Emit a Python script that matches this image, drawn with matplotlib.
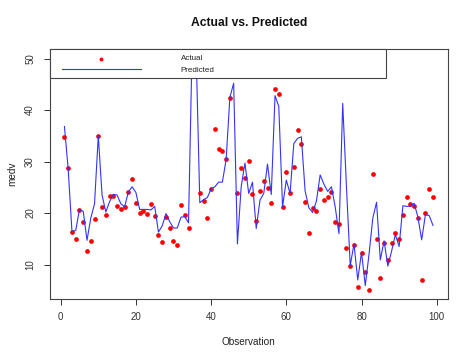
import numpy as np
import matplotlib
matplotlib.use("Agg")
import matplotlib.pyplot as plt
from matplotlib.patches import Rectangle
from matplotlib.lines import Line2D

plt.rcParams['font.family'] = ['Liberation Sans', 'DejaVu Sans']

# medv values (obs 1..99)
actual = [34.7, 28.8, 16.4, 15.0, 20.5, 18.2, 12.7, 14.5, 18.9, 35.0,
          21.2, 19.7, 23.4, 23.4, 21.4, 20.8, 21.2, 24.0, 26.6, 22.0,
          20.1, 20.3, 19.8, 21.8, 19.4, 15.7, 14.4, 19.2, 17.1, 14.5,
          13.8, 21.5, 19.6, 17.1, 50.0, 50.0, 23.8, 22.3, 19.1, 24.6,
          36.3, 32.5, 32.0, 30.4, 42.3, 50.0, 23.8, 28.7, 26.8, 30.1,
          23.7, 18.4, 24.3, 26.2, 24.8, 22.0, 44.0, 43.2, 21.1, 27.9,
          23.8, 29.0, 36.1, 33.4, 22.2, 16.2, 21.0, 20.4, 24.6, 22.6,
          23.1, 24.1, 18.2, 17.9, 50.0, 13.3, 9.7, 13.8, 5.6, 12.2,
          8.6, 5.1, 27.5, 15.0, 7.4, 14.2, 10.9, 14.1, 16.1, 15.0,
          19.7, 23.1, 21.8, 21.3, 19.1, 7.0, 20.1, 24.6, 23.1]

predicted = [36.8, 28.5, 16.4, 16.6, 20.7, 20.3, 14.7, 19.0, 21.8, 35.0,
             23.5, 20.2, 22.2, 23.6, 23.5, 21.8, 21.2, 24.1, 25.1, 24.0,
             20.7, 20.7, 20.7, 20.6, 21.3, 16.3, 17.5, 19.9, 18.3, 17.1,
             17.1, 19.2, 19.3, 18.1, 54.0, 52.0, 22.0, 22.6, 23.0, 24.7,
             25.1, 26.0, 26.0, 30.4, 42.5, 45.2, 14.0, 25.1, 29.7, 23.8,
             26.0, 17.0, 22.5, 23.8, 29.5, 23.6, 42.8, 40.7, 21.2, 26.4,
             23.8, 33.5, 34.5, 34.8, 24.3, 21.0, 20.1, 22.3, 27.4, 25.6,
             24.2, 25.1, 21.2, 16.0, 41.3, 25.0, 9.8, 14.0, 7.0, 12.4,
             5.9, 12.0, 19.0, 22.1, 10.9, 14.6, 9.7, 12.6, 15.8, 13.5,
             21.4, 21.3, 21.3, 21.9, 19.2, 14.8, 19.7, 19.5, 17.6]

obs = np.arange(1, len(actual) + 1)

W, H = 474, 361
fig = plt.figure(figsize=(W / 100, H / 100), dpi=100)
ax = fig.add_axes([49.7 / W, 1 - 299 / H, (447.7 - 49.7) / W, (299 - 49.3) / H])

ax.plot(obs, actual, 'o', color='red', markersize=3.4, markeredgewidth=0, zorder=2)
ax.plot(obs, predicted, color='#3333ff', lw=0.8, zorder=3)

# R style axis ranges (4% padding)
n = len(actual)
ax.set_xlim(1 - 0.04 * (n - 1), n + 0.04 * (n - 1))
lo, hi = min(actual), max(actual)
ax.set_ylim(lo - 0.04 * (hi - lo), hi + 0.04 * (hi - lo))

ax.set_xticks([0, 20, 40, 60, 80, 100])
ax.set_yticks([10, 20, 30, 40, 50])
for lab in ax.get_yticklabels():
    lab.set_rotation(90)
    lab.set_va('center')
ax.tick_params(labelsize=7, length=4, width=0.7, colors='#333333', pad=5.5)
ax.tick_params(axis='y', pad=6.5)

for s in ax.spines.values():
    s.set_color('#444444')
    s.set_linewidth(0.8)

ax.set_xlabel('Observation', fontsize=7.2, color='#222222')
ax.set_ylabel('medv', fontsize=7.2, color='#222222')
ax.xaxis.set_label_coords(0.5, -0.172)
ax.xaxis.label.set_va('center')
ax.yaxis.set_label_coords(-0.093, 0.5)
ax.yaxis.label.set_va('center')

fig.text(248.7 / W, 1 - 23.5 / H, 'Actual vs. Predicted', ha='center', va='center',
         fontsize=8.7, fontweight='bold', color='#111111')

# legend box drawn by hand, top left, opaque
ax.add_patch(Rectangle((0, 1 - 0.116), 0.845, 0.116, transform=ax.transAxes,
                       facecolor='white', edgecolor='#444444', lw=0.8,
                       zorder=5, clip_on=False))
ax.add_line(Line2D([0.129], [0.960], transform=ax.transAxes, marker='o',
                   color='red', markersize=2.8, markeredgewidth=0, zorder=6))
ax.add_line(Line2D([0.030, 0.229], [0.921, 0.921], transform=ax.transAxes,
                   color='#3333ff', lw=0.8, zorder=6))
ax.text(0.329, 0.962, 'Actual', transform=ax.transAxes, fontsize=5.8,
        va='center', ha='left', color='#222222', zorder=7)
ax.text(0.329, 0.917, 'Predicted', transform=ax.transAxes, fontsize=5.8,
        va='center', ha='left', color='#222222', zorder=7)

fig.savefig('out.png', dpi=100)
